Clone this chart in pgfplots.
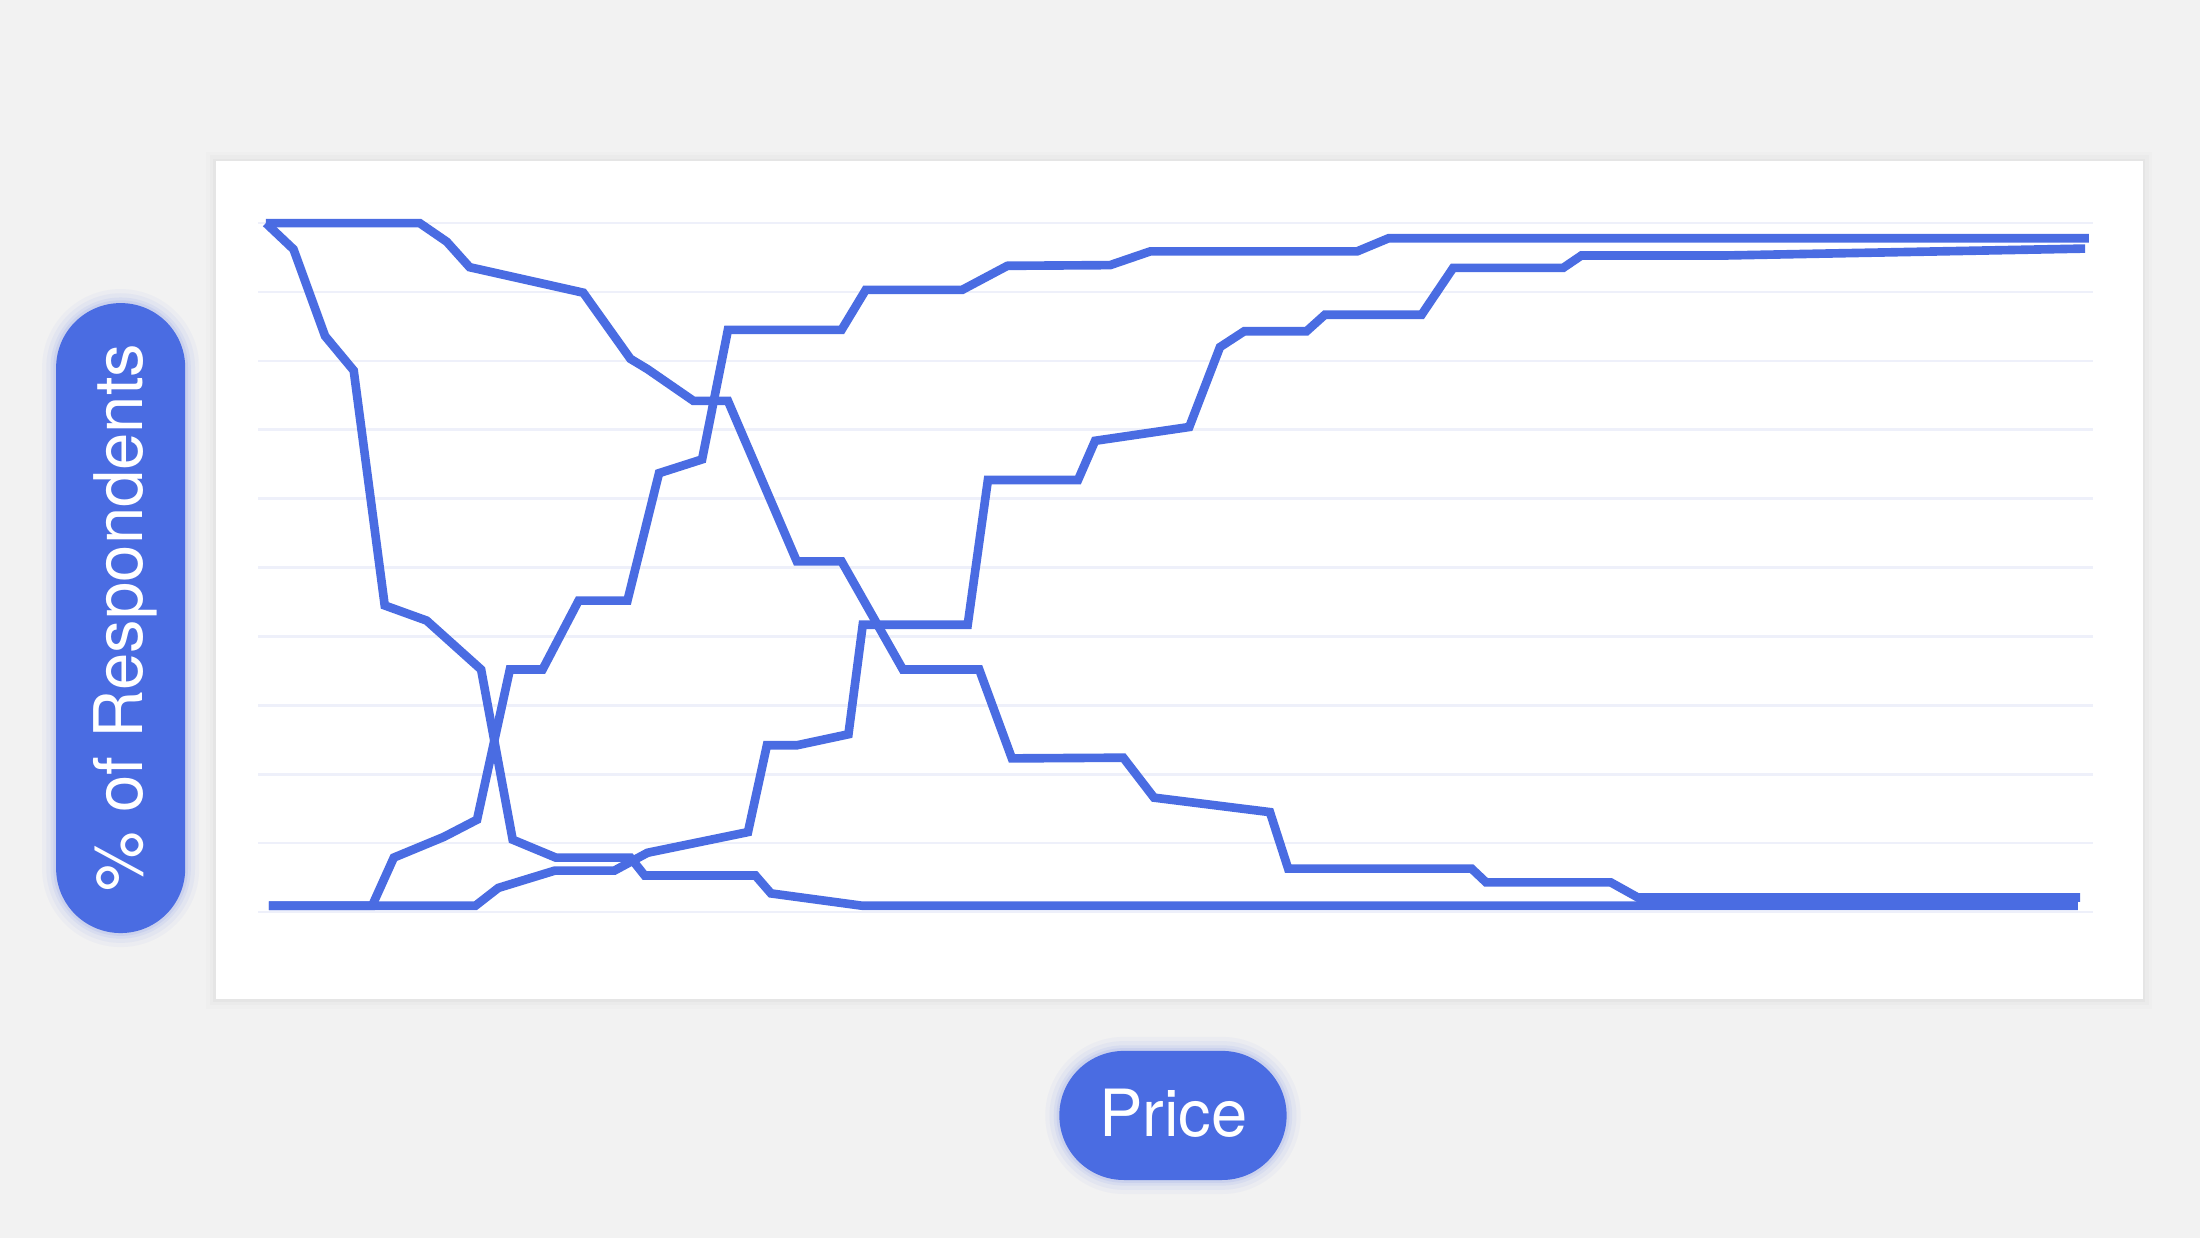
\documentclass[border=0pt]{standalone}
\usepackage{fontspec}
\setmainfont{TeX Gyre Heros}
\usepackage{pgfplots}
\pgfplotsset{compat=1.18}

\definecolor{bg}{HTML}{F2F2F2}
\definecolor{lineblue}{HTML}{4A6CE2}
\definecolor{gridc}{HTML}{EEF0FA}

\tikzset{curve/.style={lineblue, line width=1.75pt, no markers}}

\begin{document}
\begin{tikzpicture}[x=1cm,y=1cm]
% background and white panel
\fill[bg] (0,0) rectangle (15.68,8.82);
\foreach \d/\o in {0.07/0.012,0.045/0.016,0.02/0.022} {
  \fill[black,opacity=\o] (1.54-\d,1.70-\d) rectangle (15.27+\d,7.67+\d);
}
\fill[white] (1.54,1.70) rectangle (15.27,7.67);

\begin{axis}[
    at={(1.84cm,2.32cm)}, anchor=south west,
    scale only axis,
    width=13.08cm, height=4.91cm,
    xmin=184, xmax=1492,
    ymin=0, ymax=100,
    ytick={0,10,...,100},
    yticklabels={},
    xtick=\empty,
    ymajorgrids=true,
    major grid style={draw=gridc, line width=0.55pt},
    axis line style={draw=none},
    major tick length=0pt,
    clip=false,
  ]

  % falls from 100 steeply
  \addplot[curve] coordinates {
    (189.5,100)(209.2,96.2)(231.7,83.6)(252.1,78.6)(274.2,44.5)(304.1,42.3)
    (342.9,35.2)(365.4,10.5)(396.1,7.9)(449.3,7.9)(459.5,5.3)(538.4,5.3)
    (549.5,2.7)(614.9,0.9)(1481,0.9)
  };
  % rises early
  \addplot[curve] coordinates {
    (191.6,0.9)(265.2,0.9)(280.7,7.9)(316.3,10.9)(340.0,13.4)(363.4,35.2)
    (386.7,35.2)(412.4,45.2)(447.2,45.2)(469.7,63.7)(500.4,65.7)(518.8,84.5)
    (599.8,84.5)(617.0,90.3)(685.7,90.3)(718.0,93.8)(791.2,93.9)(819.9,95.9)
    (967.3,95.9)(989.7,97.8)(1488.7,97.8)
  };
  % falls from 100 slowly
  \addplot[curve] coordinates {
    (189.5,100)(299.1,100)(318.4,97.3)(334.7,93.6)(415.7,89.9)(449.3,80.3)
    (461.5,78.8)(494.2,74.2)(518.8,74.2)(567.9,50.9)(599.8,50.9)(643.5,35.2)
    (697.9,35.2)(721.2,22.3)(800.6,22.4)(822.5,16.6)(905.1,14.5)(918.1,6.3)
    (1048.8,6.3)(1059.2,4.3)(1148.0,4.3)(1167.4,2.1)(1482.5,2.1)
  };
  % rises late
  \addplot[curve] coordinates {
    (191.6,0.9)(338.8,0.9)(355.2,3.5)(395.3,6.0)(437.8,6.0)(461.5,8.6)
    (533.1,11.6)(546.6,24.2)(567.9,24.2)(604.7,25.8)(614.9,41.7)(689.7,41.7)
    (704.1,62.7)(768.3,62.7)(780.5,68.4)(847.6,70.4)(869.5,82.0)(886.8,84.3)
    (931.2,84.3)(944.3,86.7)(1013.2,86.7)(1035.7,93.5)(1114.1,93.5)
    (1127.1,95.3)(1230.1,95.3)(1486.1,96.3)
  };
\end{axis}

% y label pill
\foreach \d/\o/\rr in {0.10/0.04/0.56,0.07/0.05/0.53,0.04/0.07/0.50,0.02/0.09/0.48} {
  \fill[lineblue,opacity=\o,rounded corners=\rr cm] (0.40-\d,2.17-\d) rectangle (1.32+\d,6.66+\d);
}
\fill[lineblue,rounded corners=0.46cm] (0.40,2.17) rectangle (1.32,6.66);
\node[rotate=90, anchor=base, text=white, inner sep=0pt,
      font=\fontsize{13.6}{16}\selectfont] at (1.015,4.42) {\% of Respondents};

% x label pill
\foreach \d/\o/\rr in {0.10/0.04/0.56,0.07/0.05/0.53,0.04/0.07/0.50,0.02/0.09/0.48} {
  \fill[lineblue,opacity=\o,rounded corners=\rr cm] (7.55-\d,0.41-\d) rectangle (9.17+\d,1.33+\d);
}
\fill[lineblue,rounded corners=0.46cm] (7.55,0.41) rectangle (9.17,1.33);
\node[anchor=base, text=white, inner sep=0pt,
      font=\fontsize{13.2}{16}\selectfont] at (8.363,0.718) {Price};
\end{tikzpicture}
\end{document}
